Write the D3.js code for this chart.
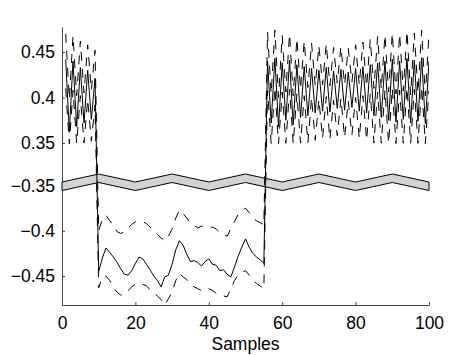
<!DOCTYPE html>
<html><head><meta charset="utf-8">
<script src="https://cdn.jsdelivr.net/npm/d3@7/dist/d3.min.js"></script>
<style>
html,body{margin:0;padding:0;background:#fff;}
svg{display:block;font-family:"Liberation Sans",Arial,Helvetica,sans-serif;}
</style>
</head><body>
<svg id="chart" width="474" height="355"></svg>
<script>
// ---- data ----
const xTicks = [0, 20, 40, 60, 80, 100];
const yTicks = [-0.45, -0.4, -0.35, 0.35, 0.4, 0.45];
const yTickLabels = ["\u22120.45", "\u22120.4", "\u22120.35", "0.35", "0.4", "0.45"];
const xLabel = "Samples";

const samples = [1,2,3,4,5,6,7,8,9,10,11,12,13,14,15,16,17,18,19,20,21,22,23,24,25,26,27,28,29,30,
  31,32,33,34,35,36,37,38,39,40,41,42,43,44,45,46,47,48,49,50,51,52,53,54,55,56,57,58,59,60,
  61,62,63,64,65,66,67,68,69,70,71,72,73,74,75,76,77,78,79,80,81,82,83,84,85,86,87,88,89,90,
  91,92,93,94,95,96,97,98,99,100];

const meanVals = [
  0.442, 0.362, 0.440, 0.368, 0.433, 0.372, 0.430, 0.376, 0.421,
  -0.445, -0.430, -0.419, -0.424, -0.429, -0.435, -0.442, -0.448, -0.449, -0.444,
  -0.436, -0.429, -0.431, -0.437, -0.443, -0.450, -0.455, -0.462, -0.451, -0.449,
  -0.437, -0.421, -0.411, -0.416, -0.426, -0.434, -0.433, -0.435, -0.439, -0.434,
  -0.431, -0.437, -0.438, -0.444, -0.443, -0.448, -0.451, -0.440, -0.428, -0.418,
  -0.409, -0.418, -0.425, -0.429, -0.432, -0.436,
  0.440, 0.372, 0.443, 0.368, 0.438, 0.375, 0.441, 0.370, 0.436, 0.378,
  0.434, 0.380, 0.432, 0.383, 0.430, 0.385, 0.433, 0.384, 0.429, 0.388,
  0.431, 0.386, 0.428, 0.389, 0.432, 0.385, 0.434, 0.383, 0.436, 0.380,
  0.438, 0.378, 0.440, 0.375, 0.442, 0.373, 0.440, 0.376, 0.443, 0.372,
  0.441, 0.374, 0.444, 0.371, 0.440
];

const upperVals = [
  0.470, 0.398, 0.468, 0.402, 0.462, 0.405, 0.458, 0.408, 0.452,
  -0.400, -0.387, -0.383, -0.389, -0.394, -0.401, -0.403, -0.401, -0.397, -0.393,
  -0.390, -0.390, -0.390, -0.392, -0.396, -0.400, -0.404, -0.408, -0.411, -0.406,
  -0.398, -0.386, -0.377, -0.381, -0.386, -0.392, -0.394, -0.397, -0.395, -0.395,
  -0.396, -0.396, -0.398, -0.402, -0.404, -0.406, -0.398, -0.390, -0.382, -0.378,
  -0.375, -0.380, -0.386, -0.389, -0.391, -0.394,
  0.472, 0.404, 0.474, 0.400, 0.468, 0.406, 0.470, 0.402, 0.465, 0.409,
  0.462, 0.411, 0.460, 0.413, 0.457, 0.414, 0.459, 0.413, 0.455, 0.416,
  0.456, 0.414, 0.454, 0.417, 0.458, 0.414, 0.461, 0.412, 0.464, 0.410,
  0.467, 0.409, 0.469, 0.406, 0.471, 0.404, 0.470, 0.407, 0.473, 0.403,
  0.471, 0.405, 0.474, 0.402, 0.470
];

const lowerVals = [
  0.410, 0.338, 0.408, 0.342, 0.402, 0.348, 0.398, 0.352, 0.392,
  -0.463, -0.451, -0.450, -0.455, -0.462, -0.468, -0.471, -0.470, -0.466, -0.462,
  -0.459, -0.458, -0.459, -0.461, -0.465, -0.469, -0.472, -0.476, -0.482, -0.475,
  -0.468, -0.455, -0.447, -0.451, -0.454, -0.460, -0.462, -0.464, -0.466, -0.465,
  -0.464, -0.466, -0.469, -0.471, -0.472, -0.473, -0.464, -0.455, -0.449, -0.446,
  -0.444, -0.449, -0.455, -0.458, -0.461, -0.464,
  0.408, 0.342, 0.411, 0.338, 0.406, 0.345, 0.409, 0.340, 0.404, 0.348,
  0.402, 0.350, 0.400, 0.353, 0.398, 0.355, 0.401, 0.354, 0.397, 0.358,
  0.399, 0.356, 0.396, 0.359, 0.400, 0.355, 0.402, 0.353, 0.404, 0.350,
  0.406, 0.348, 0.408, 0.345, 0.410, 0.343, 0.408, 0.346, 0.411, 0.342,
  0.409, 0.344, 0.412, 0.341, 0.408
];

// axis-break zigzag corners (in samples), peaks at odd multiples of 10
const breakCorners = [0, 10, 20, 30, 40, 50, 60, 70, 80, 90, 100];

// ---- layout ----
const svg = d3.select("#chart");
const plotLeft = 62, plotRight = 429, plotTop = 27, plotBottom = 305;
const fontSize = 17.5;

const x = d3.scaleLinear().domain([0, 100]).range([plotLeft, plotRight]);
// broken y axis: piecewise linear scale
const y = d3.scaleLinear()
  .domain([-0.482, -0.35, 0.35, 0.4775])
  .range([plotBottom, 185.5, 143, plotTop]);

svg.append("defs").append("clipPath").attr("id", "plotclip")
  .append("rect").attr("x", plotLeft).attr("y", plotTop)
  .attr("width", plotRight - plotLeft).attr("height", plotBottom - plotTop);

// axes
const yAxis = d3.axisLeft(y).tickValues(yTicks)
  .tickFormat((d, i) => yTickLabels[i])
  .tickSizeInner(-3).tickSizeOuter(0).tickPadding(7);
const gy = svg.append("g").attr("transform", `translate(${plotLeft},0)`).call(yAxis);

const xAxis = d3.axisBottom(x).tickValues(xTicks)
  .tickSizeInner(-3).tickSizeOuter(0).tickPadding(12);
const gx = svg.append("g").attr("transform", `translate(0,${plotBottom})`).call(xAxis);

[gx, gy].forEach(g => {
  g.select(".domain").attr("stroke", "#444").attr("stroke-width", 1);
  g.selectAll(".tick line").attr("stroke", "#444");
  g.selectAll(".tick text").attr("fill", "#000")
    .style("font-size", fontSize + "px")
    .style("font-family", '"Liberation Sans", Arial, sans-serif');
});

svg.append("text").attr("x", (plotLeft + plotRight) / 2).attr("y", 350)
  .attr("text-anchor", "middle").attr("fill", "#000")
  .style("font-size", fontSize + "px").text(xLabel);

// break band
const yRef = y(-0.35);
const bandTop = breakCorners.map(c => [x(c), yRef + ((c / 10) % 2 === 1 ? -11.5 : -3.5)]);
const bandBot = bandTop.map(p => [p[0], p[1] + 8.5]).reverse();
svg.append("path")
  .attr("d", d3.line()(bandTop.concat(bandBot)) + "Z")
  .attr("fill", "#d3d3d3").attr("stroke", "#000").attr("stroke-width", 1);

// data lines
const plot = svg.append("g").attr("clip-path", "url(#plotclip)");
const line = d3.line().x((d, i) => x(samples[i])).y(d => y(d));

plot.append("path").datum(upperVals).attr("d", line)
  .attr("fill", "none").attr("stroke", "#000").attr("stroke-width", 1)
  .attr("stroke-dasharray", "9,8");
plot.append("path").datum(lowerVals).attr("d", line)
  .attr("fill", "none").attr("stroke", "#000").attr("stroke-width", 1)
  .attr("stroke-dasharray", "9,8");
plot.append("path").datum(meanVals).attr("d", line)
  .attr("fill", "none").attr("stroke", "#000").attr("stroke-width", 1);
</script>
</body></html>
